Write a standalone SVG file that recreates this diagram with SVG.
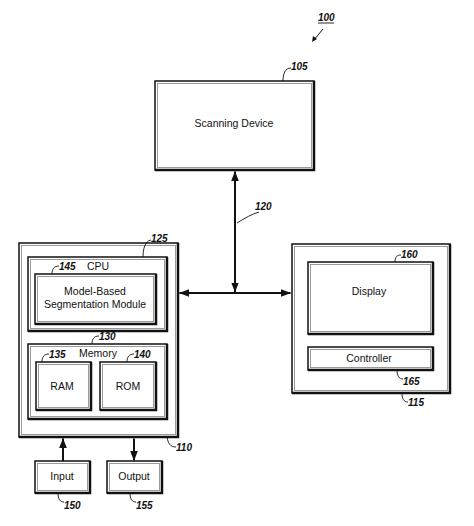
<svg xmlns="http://www.w3.org/2000/svg" width="474" height="526" viewBox="0 0 474 526">
<defs>
<style>
.o{fill:none;stroke:#111;stroke-width:1.5}
.i{fill:none;stroke:#9a9a9a;stroke-width:1}
.s{fill:none;stroke:#111;stroke-width:2.5}
.t{font-family:"Liberation Sans",Arial,sans-serif;font-size:10.5px;fill:#111;text-anchor:middle}
.n{font-family:"Liberation Sans",Arial,sans-serif;font-size:10px;font-style:italic;font-weight:bold;fill:#111}
.l{fill:none;stroke:#111;stroke-width:0.9}
.c{fill:none;stroke:#111;stroke-width:2}
</style>
<marker id="ah" viewBox="0 0 10 10" refX="9.5" refY="5" markerWidth="5" markerHeight="5" orient="auto-start-reverse" markerUnits="strokeWidth">
<path d="M0,1.2 L10,5 L0,8.8 z" fill="#111"/>
</marker>
</defs>
<rect width="474" height="526" fill="#fff"/>

<g id="label100">
<text class="n" x="318" y="21">100</text>
<line x1="318" y1="23" x2="334" y2="23" stroke="#111" stroke-width="0.9"/>
<line x1="323" y1="29" x2="314" y2="40" stroke="#111" stroke-width="1"/>
<path d="M312,42 L313,36 L317,39 z" fill="#111"/>
</g>

<g id="n105">
<rect class="o" x="155" y="81" width="159" height="89"/>
<rect class="i" x="157.5" y="83.5" width="154" height="84"/>
<polyline class="s" points="314,81 314,170 155,170"/>
<text class="t" x="234" y="127">Scanning Device</text>
<path class="l" d="M283,81 C283,74 285,68 291,68"/>
<text class="n" x="291" y="70">105</text>
</g>

<g id="n110">
<rect class="o" x="19" y="243" width="159" height="194"/>
<rect class="i" x="21.5" y="245.5" width="154" height="189"/>
<polyline class="s" points="178,243 178,437 19,437"/>
<path class="l" d="M167,437 C168,443 170,447 176,447"/>
<text class="n" x="176" y="451">110</text>
</g>

<g id="n125">
<rect class="o" x="28" y="257" width="139" height="74"/>
<rect class="i" x="30.5" y="259.5" width="134" height="69"/>
<polyline class="s" points="167,257 167,331 28,331"/>
<text class="t" x="98" y="270">CPU</text>
<path class="l" d="M143,257 C143,249 145,241 151,240"/>
<text class="n" x="151" y="242">125</text>
</g>

<g id="n145">
<rect class="o" x="35" y="274" width="121" height="50"/>
<rect class="i" x="37.5" y="276.5" width="116" height="45"/>
<polyline class="s" points="156,274 156,324 35,324"/>
<text class="t" x="95" y="295">Model-Based</text>
<text class="t" x="95" y="308">Segmentation Module</text>
<path class="l" d="M52,274 C52,269 54,266 59,266"/>
<text class="n" x="59" y="270">145</text>
</g>

<g id="n130">
<rect class="o" x="28" y="344" width="139" height="75"/>
<rect class="i" x="30.5" y="346.5" width="134" height="70"/>
<polyline class="s" points="167,344 167,419 28,419"/>
<text class="t" x="98" y="357">Memory</text>
<path class="l" d="M92,344 C92,339 94,336 99,336"/>
<text class="n" x="99" y="340">130</text>
</g>

<g id="n135">
<rect class="o" x="36" y="362" width="55" height="48"/>
<rect class="i" x="38.5" y="364.5" width="50" height="43"/>
<polyline class="s" points="91,362 91,410 36,410"/>
<text class="t" x="62" y="390">RAM</text>
<path class="l" d="M42,362 C42,357 44,354 49,354"/>
<text class="n" x="49" y="358">135</text>
</g>

<g id="n140">
<rect class="o" x="100" y="362" width="56" height="48"/>
<rect class="i" x="102.5" y="364.5" width="51" height="43"/>
<polyline class="s" points="156,362 156,410 100,410"/>
<text class="t" x="128" y="390">ROM</text>
<path class="l" d="M127,362 C127,357 129,354 134,354"/>
<text class="n" x="134" y="358">140</text>
</g>

<g id="n115">
<rect class="o" x="292" y="244" width="158" height="149"/>
<rect class="i" x="294.5" y="246.5" width="153" height="144"/>
<polyline class="s" points="450,244 450,393 292,393"/>
<path class="l" d="M402,393 C402,399 404,402 408,402"/>
<text class="n" x="408" y="406">115</text>
</g>

<g id="n160">
<rect class="o" x="308" y="262" width="125" height="72"/>
<rect class="i" x="310.5" y="264.5" width="120" height="67"/>
<polyline class="s" points="433,262 433,334 308,334"/>
<text class="t" x="369" y="295">Display</text>
<path class="l" d="M395,262 C395,257 397,255 401,255"/>
<text class="n" x="401" y="258">160</text>
</g>

<g id="n165">
<rect class="o" x="308" y="347" width="125" height="23"/>
<rect class="i" x="310.5" y="349.5" width="120" height="18"/>
<polyline class="s" points="433,347 433,370 308,370"/>
<text class="t" x="369" y="362">Controller</text>
<path class="l" d="M397,370 C397,376 399,379 403,379"/>
<text class="n" x="403" y="385">165</text>
</g>

<g id="n150">
<rect class="o" x="35" y="461" width="55" height="32"/>
<rect class="i" x="37.5" y="463.5" width="50" height="27"/>
<polyline class="s" points="90,461 90,493 35,493"/>
<text class="t" x="62" y="480">Input</text>
<path class="l" d="M58,493 C58,499 60,502 64,502"/>
<text class="n" x="64" y="509">150</text>
</g>

<g id="n155">
<rect class="o" x="107" y="461" width="55" height="32"/>
<rect class="i" x="109.5" y="463.5" width="50" height="27"/>
<polyline class="s" points="162,461 162,493 107,493"/>
<text class="t" x="134" y="480">Output</text>
<path class="l" d="M130,493 C130,499 132,502 136,502"/>
<text class="n" x="136" y="509">155</text>
</g>

<g id="connectors">
<line class="c" x1="235" y1="171.5" x2="235" y2="292" marker-start="url(#ah)" marker-end="url(#ah)"/>
<line class="c" x1="179.5" y1="293" x2="290.5" y2="293" marker-start="url(#ah)" marker-end="url(#ah)"/>
<line class="c" x1="63" y1="461" x2="63" y2="438.5" marker-end="url(#ah)"/>
<line class="c" x1="134" y1="438.5" x2="134" y2="460.5" marker-end="url(#ah)"/>
<path class="l" d="M237,223 C245,218 252,214 259,212"/>
<text class="n" x="255" y="210">120</text>
</g>
</svg>
